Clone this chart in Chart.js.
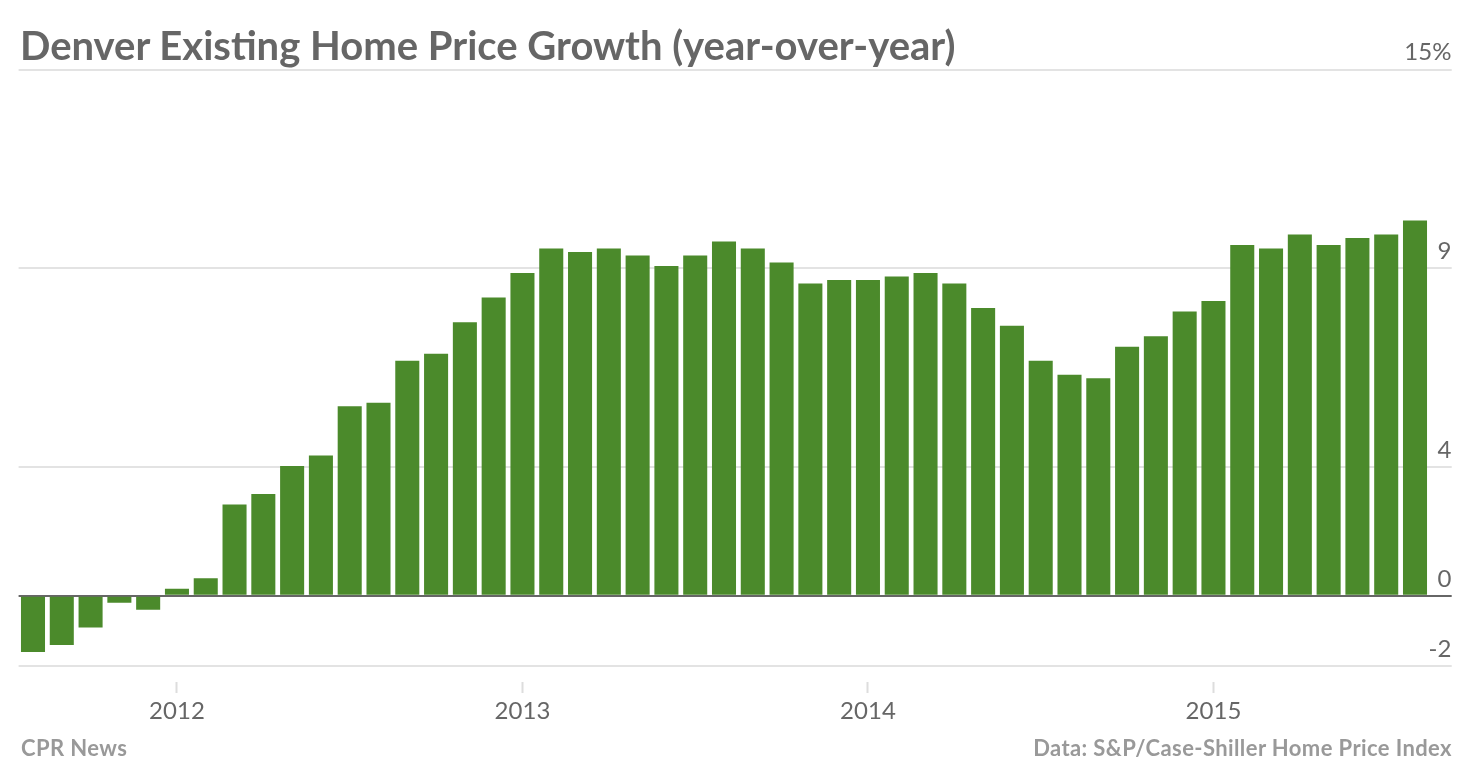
<!DOCTYPE html>
<html>
<head>
<meta charset="utf-8">
<script src="https://cdn.jsdelivr.net/npm/chart.js@4.4.1/dist/chart.umd.min.js"></script>
<style>
  body { margin: 0; background: #fff; font-family: Lato, sans-serif; }
  #wrap { position: relative; width: 1472px; height: 766px; }
  #title { position: absolute; left: 20px; top: 21px; font-size: 40px; line-height: 48px; font-weight: 700; color: #666; white-space: nowrap; }
  #source, #credit { position: absolute; top: 735px; font-size: 22px; line-height: 26px; font-weight: 700; color: #999; letter-spacing: 0.4px; white-space: nowrap; }
  #credit { left: 21px; }
  #source { right: 20px; }
</style>
</head>
<body>
<div id="wrap">
  <canvas id="myChart"></canvas>
  <div id="title">Denver Existing Home Price Growth (year-over-year)</div>
  <div id="credit">CPR News</div>
  <div id="source">Data: S&amp;P/Case-Shiller Home Price Index</div>
</div>
<script>
// Data
const months = [
  '2011-08','2011-09','2011-10','2011-11','2011-12',
  '2012-01','2012-02','2012-03','2012-04','2012-05','2012-06','2012-07','2012-08','2012-09','2012-10','2012-11','2012-12',
  '2013-01','2013-02','2013-03','2013-04','2013-05','2013-06','2013-07','2013-08','2013-09','2013-10','2013-11','2013-12',
  '2014-01','2014-02','2014-03','2014-04','2014-05','2014-06','2014-07','2014-08','2014-09','2014-10','2014-11','2014-12',
  '2015-01','2015-02','2015-03','2015-04','2015-05','2015-06','2015-07','2015-08'
];
const growth = [
  -1.6, -1.4, -0.9, -0.2, -0.4,
  0.2, 0.5, 2.6, 2.9, 3.7, 4.0, 5.4, 5.5, 6.7, 6.9, 7.8, 8.5,
  9.2, 9.9, 9.8, 9.9, 9.7, 9.4, 9.7, 10.1, 9.9, 9.5, 8.9, 9.0,
  9.0, 9.1, 9.2, 8.9, 8.2, 7.7, 6.7, 6.3, 6.2, 7.1, 7.4, 8.1,
  8.4, 10.0, 9.9, 10.3, 10.0, 10.2, 10.3, 10.7
];
const yTickValues = [-2, 0, 3.67, 9.33, 15];
const yTickLabels = ['-2', '0', '4', '9', '15%'];

const isJan = i => months[i].slice(5) === '01';

// Setup
const data = {
  labels: months,
  datasets: [{
    label: 'Year-over-year growth',
    data: growth,
    backgroundColor: '#4b8a2b',
    borderWidth: 0,
    categoryPercentage: 1,
    barPercentage: 0.835
  }]
};

// Config
const config = {
  type: 'bar',
  data: data,
  options: {
    responsive: true,
    maintainAspectRatio: false,
    animation: false,
    layout: {
      padding: { left: 18.6, right: 20.3, top: 69.5, bottom: 36.2 }
    },
    scales: {
      x: {
        grid: {
          offset: false,
          drawOnChartArea: false,
          tickLength: 27,
          tickWidth: 2,
          tickBorderDash: [11, 16],
          tickBorderDashOffset: 11,
          tickColor: ctx => isJan(ctx.index) ? '#dddddd' : 'rgba(0,0,0,0)'
        },
        border: { display: false },
        ticks: {
          autoSkip: false,
          maxRotation: 0,
          padding: 4,
          color: '#666',
          font: { family: 'Lato', size: 24 },
          callback: (v, i) => isJan(i) ? months[i].slice(0, 4) : ''
        }
      },
      y: {
        position: 'right',
        min: -2,
        max: 15,
        afterBuildTicks: scale => {
          scale.ticks = yTickValues.map(v => ({ value: v }));
        },
        afterFit: scale => {
          scale.width = 22.3;
        },
        grid: {
          color: ctx => ctx.tick && ctx.tick.value === 0 ? '#666666' : '#e3e3e3',
          lineWidth: 2,
          tickLength: 22.3
        },
        border: { display: false },
        ticks: {
          mirror: true,
          padding: 22,
          labelOffset: -17,
          color: '#666',
          font: { family: 'Lato', size: 24 },
          callback: (v, i) => yTickLabels[i]
        }
      }
    },
    plugins: {
      legend: { display: false },
      tooltip: { enabled: false }
    }
  }
};

// Render
const myChart = new Chart(document.querySelector('#myChart'), config);
</script>
</body>
</html>
